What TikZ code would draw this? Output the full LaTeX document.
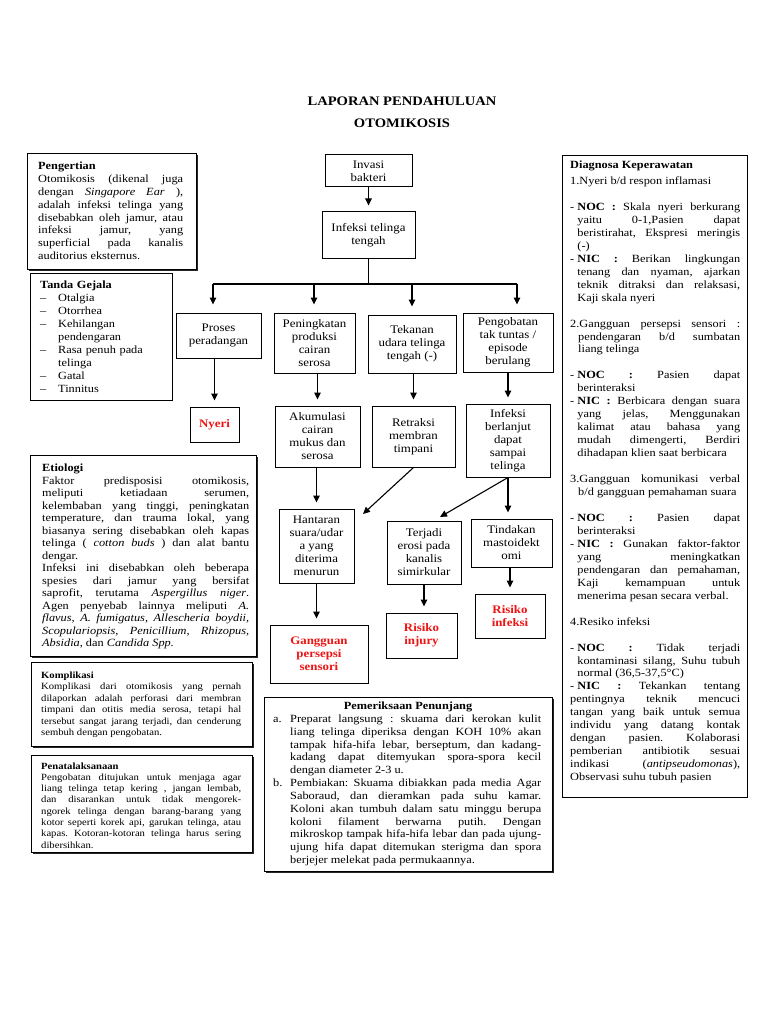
\documentclass[tikz,border=0pt]{standalone}
\usepackage{fontspec}
\setmainfont{Liberation Serif}[FakeStretch=1.12]
\usetikzlibrary{arrows.meta,shadows}
\definecolor{redt}{RGB}{238,20,20}
\newcommand{\hpar}[1][7.2pt]{\par\hangindent=#1\hangafter=1\relax}
\newcommand{\hfirst}[1][7.2pt]{\hangindent=#1\hangafter=1\relax}
\newcommand{\blankln}{\par\mbox{}}
\newcommand{\dsh}{\makebox[7.2pt][l]{-}}
\newcommand{\tgd}{\makebox[18pt][l]{--}}
\newcommand{\lbl}[1]{\noindent\llap{\makebox[17pt][l]{#1}}}
\frenchspacing
\begin{document}
\begin{tikzpicture}[x=1pt,y=-1pt,
  box/.style={draw, line width=1pt, fill=white, inner sep=0pt, anchor=north west},
  sbox/.style={box, drop shadow={shadow xshift=1.3pt, shadow yshift=-1.3pt, fill=black, opacity=0.85}},
  fnode/.style={draw, line width=1pt, fill=white, align=center, inner sep=0pt, font=\fontsize{11.5}{13}\selectfont},
  rnode/.style={fnode, text=redt, font=\bfseries\fontsize{11.5}{13}\selectfont},
  txt/.style={anchor=base west, inner sep=0pt, align=justify},
  arr/.style={line width=1.1pt, -{Triangle[length=7pt,width=6.5pt]}, shorten >=6pt},
  ln/.style={line width=1.1pt}
]
\path[use as bounding box, fill=white] (0,0) rectangle (768,1024);

% title
\node[anchor=base, inner sep=0pt, font=\bfseries\fontsize{13}{15}\selectfont] (title1) at (402,105.5) {LAPORAN PENDAHULUAN};
\node[anchor=base, inner sep=0pt, font=\bfseries\fontsize{13}{15}\selectfont] (title2) at (402,127.5) {OTOMIKOSIS};

% left column boxes
\node[sbox, minimum width=169, minimum height=116] (pengbox) at (27,153) {};
\node[txt, text width=145, font=\fontsize{11}{12.9}\selectfont] (pengtxt) at (38,169.5) {\textbf{Pengertian}\par
Otomikosis (dikenal juga\linebreak dengan \textit{Singapore}\quad\textit{Ear} ),\linebreak adalah infeksi telinga yang\linebreak disebabkan oleh jamur, atau\linebreak infeksi jamur, yang\linebreak superficial pada kanalis\linebreak auditorius eksternus.};

\node[box, minimum width=142, minimum height=127] (tandabox) at (30,273) {};
\node[anchor=base west, inner sep=0pt, text width=128, align=left, font=\fontsize{11}{13.1}\selectfont] (tandatxt) at (40,288) {\textbf{Tanda Gejala}\\
\tgd Otalgia\\ \tgd Otorrhea\\ \tgd Kehilangan\\ \hspace*{18pt}pendengaran\\ \tgd Rasa penuh pada\\ \hspace*{18pt}telinga\\ \tgd Gatal\\ \tgd Tinnitus};

\node[sbox, minimum width=226, minimum height=201] (etiobox) at (30,455) {};
\node[txt, text width=207, font=\fontsize{11}{12.5}\selectfont] (etiotxt) at (42,471.5) {\textbf{Etiologi}\par
Faktor predisposisi otomikosis,\linebreak meliputi ketiadaan serumen,\linebreak kelembaban yang tinggi, peningkatan\linebreak temperature, dan trauma lokal, yang\linebreak biasanya sering disebabkan oleh kapas\linebreak telinga ( \textit{cotton buds} ) dan alat bantu\linebreak dengar.\par
Infeksi ini disebabkan oleh beberapa\linebreak spesies dari jamur yang bersifat\linebreak saprofit, terutama \textit{Aspergillus niger}.\linebreak Agen penyebab lainnya meliputi \textit{A.}\linebreak \textit{flavus, A. fumigatus, Allescheria boydii,}\linebreak \textit{Scopulariopsis, Penicillium, Rhizopus,}\linebreak \textit{Absidia}, dan \textit{Candida Spp.}};

\node[sbox, minimum width=221, minimum height=84] (komplbox) at (31,662) {};
\node[txt, text width=200, font=\fontsize{9.5}{11.5}\selectfont] (kompltxt) at (41,678) {\textbf{Komplikasi}\par
Komplikasi dari otomikosis yang pernah\linebreak dilaporkan adalah perforasi dari membran\linebreak timpani dan otitis media serosa, tetapi hal\linebreak tersebut sangat jarang terjadi, dan cenderung\linebreak sembuh dengan pengobatan.};

\node[sbox, minimum width=221, minimum height=97] (penatbox) at (31,755) {};
\node[txt, text width=200, font=\fontsize{9.5}{11.3}\selectfont] (penattxt) at (41,769) {\textbf{Penatalaksanaan}\par
Pengobatan ditujukan untuk menjaga agar\linebreak liang telinga tetap kering , jangan lembab,\linebreak dan disarankan untuk tidak mengorek-\linebreak ngorek telinga dengan barang-barang yang\linebreak kotor seperti korek api, garukan telinga, atau\linebreak kapas. Kotoran-kotoran telinga harus sering\linebreak dibersihkan.};

% pemeriksaan penunjang
\node[sbox, minimum width=288, minimum height=174] (pemerbox) at (264,697) {};
\node[anchor=base, inner sep=0pt, font=\bfseries\fontsize{11}{12.85}\selectfont] (pemerhead) at (408,709.5) {Pemeriksaan Penunjang};
\node[txt, text width=251, font=\fontsize{11}{12.85}\selectfont] (pemertxt) at (290,722.3) {\lbl{a.}Preparat langsung : skuama dari kerokan kulit\linebreak liang telinga diperiksa dengan KOH 10\% akan\linebreak tampak hifa-hifa lebar, berseptum, dan kadang-\linebreak kadang dapat ditemyukan spora-spora kecil\linebreak dengan diameter 2-3 u.\par
\lbl{b.}Pembiakan: Skuama dibiakkan pada media Agar\linebreak Saboraud, dan dieramkan pada suhu kamar.\linebreak Koloni akan tumbuh dalam satu minggu berupa\linebreak koloni filament berwarna putih. Dengan\linebreak mikroskop tampak hifa-hifa lebar dan pada ujung-\linebreak ujung hifa dapat ditemukan sterigma dan spora\linebreak berjejer melekat pada permukaannya.};

% diagnosa keperawatan
\node[box, minimum width=185, minimum height=642] (diagbox) at (562,155) {};
\node[anchor=base west, inner sep=0pt, font=\bfseries\fontsize{11}{13}\selectfont] (diaghead) at (570,168.5) {Diagnosa Keperawatan};
\node[txt, text width=170, font=\fontsize{11}{12.96}\selectfont] (diagtxt) at (570,184.5) {\hfirst[8pt]1.Nyeri b/d respon inflamasi\blankln
\hpar\dsh\textbf{NOC :} Skala nyeri berkurang\linebreak yaitu 0-1,Pasien dapat\linebreak beristirahat, Ekspresi meringis\linebreak (-)
\hpar\dsh\textbf{NIC :} Berikan lingkungan\linebreak tenang dan nyaman, ajarkan\linebreak teknik ditraksi dan relaksasi,\linebreak Kaji skala nyeri\blankln
\hpar[8pt]2.Gangguan persepsi sensori :\linebreak pendengaran b/d sumbatan\linebreak liang telinga\blankln
\hpar\dsh\textbf{NOC :} Pasien dapat\linebreak berinteraksi
\hpar\dsh\textbf{NIC :} Berbicara dengan suara\linebreak yang jelas, Menggunakan\linebreak kalimat atau bahasa yang\linebreak mudah dimengerti, Berdiri\linebreak dihadapan klien saat berbicara\blankln
\hpar[8pt]3.Gangguan komunikasi verbal\linebreak b/d gangguan pemahaman suara\blankln
\hpar\dsh\textbf{NOC :} Pasien dapat\linebreak berinteraksi
\hpar\dsh\textbf{NIC :} Gunakan faktor-faktor\linebreak yang meningkatkan\linebreak pendengaran dan pemahaman,\linebreak Kaji kemampuan untuk\linebreak menerima pesan secara verbal.\blankln
\hpar[8pt]4.Resiko infeksi\blankln
\hpar\dsh\textbf{NOC :} Tidak terjadi\linebreak kontaminasi silang, Suhu tubuh\linebreak normal (36,5-37,5°C)
\hpar\dsh\textbf{NIC :} Tekankan tentang\linebreak pentingnya teknik mencuci\linebreak tangan yang baik untuk semua\linebreak individu yang datang kontak\linebreak dengan pasien. Kolaborasi\linebreak pemberian antibiotik sesuai\linebreak indikasi (\textit{antipseudomonas}),\linebreak Observasi suhu tubuh pasien};

% flow chart
\node[fnode, minimum width=87, minimum height=32] (invasi) at (368.5,171) {Invasi\\bakteri};
\node[fnode, minimum width=93, minimum height=46] (infeksi) at (368.5,235) {Infeksi telinga\\tengah};
\node[fnode, minimum width=85, minimum height=45] (proses) at (218.5,335.5) {Proses\\peradangan};
\node[fnode, minimum width=81, minimum height=60] (pening) at (314.5,343) {Peningkatan\\produksi\\cairan\\serosa};
\node[fnode, minimum width=88, minimum height=58] (tekanan) at (412,344) {Tekanan\\udara telinga\\tengah (-)};
\node[fnode, minimum width=90, minimum height=59] (pengob) at (508,342.5) {Pengobatan\\tak tuntas /\\episode\\berulang};
\node[rnode, minimum width=49, minimum height=35] (nyeri) at (214.5,424.5) {Nyeri};
\node[fnode, minimum width=85, minimum height=61] (akum) at (317.5,436.5) {Akumulasi\\cairan\\mukus dan\\serosa};
\node[fnode, minimum width=83, minimum height=61] (retraksi) at (413.5,436.5) {Retraksi\\membran\\timpani};
\node[fnode, minimum width=84, minimum height=73] (berlanjut) at (508,440.5) {Infeksi\\berlanjut\\dapat\\sampai\\telinga};
\node[fnode, minimum width=75, minimum height=74] (hantaran) at (316.5,546) {Hantaran\\suara/udar\\a yang\\diterima\\menurun};
\node[fnode, minimum width=74, minimum height=63] (erosi) at (424,552.5) {Terjadi\\erosi pada\\kanalis\\simirkular};
\node[fnode, minimum width=81, minimum height=48] (tindakan) at (511.5,543) {Tindakan\\mastoidekt\\omi};
\node[rnode, minimum width=98, minimum height=58] (gangguan) at (319,654) {Gangguan\\persepsi\\sensori};
\node[rnode, minimum width=71, minimum height=45] (injury) at (421.5,635.5) {Risiko\\injury};
\node[rnode, minimum width=70, minimum height=44] (rinfeksi) at (510,616) {Risiko\\infeksi};

\coordinate (hub) at (368.5,284);
\coordinate (t1) at (213,284);
\coordinate (t2) at (314,284);
\coordinate (t3) at (412,284);
\coordinate (t4) at (517,284);
\coordinate (hin) at (363,514);
\coordinate (ein) at (440,517);

\draw[arr] (invasi.south) -- (infeksi.north);
\draw[ln] (infeksi.south) -- (hub);
\draw[ln] (t1) -- (t4);
\draw[arr, shorten >=8pt] (t1) -- (t1 |- proses.north);
\draw[arr, shorten >=8pt] (t2) -- (t2 |- pening.north);
\draw[arr, shorten >=8pt] (t3) -- (t3 |- tekanan.north);
\draw[arr, shorten >=8pt] (t4) -- (t4 |- pengob.north);
\draw[arr] (nyeri.north |- proses.south) -- (nyeri.north);
\draw[arr] (akum.north |- pening.south) -- (akum.north);
\draw[arr] (retraksi.north |- tekanan.south) -- (retraksi.north);
\draw[arr] (pengob.south) -- (berlanjut.north);
\draw[arr] (hantaran.north |- akum.south) -- (hantaran.north);
\draw[arr, shorten >=0pt] (retraksi.south) -- (hin);
\draw[arr, shorten >=0pt] (berlanjut.south) -- (ein);
\draw[arr] (berlanjut.south) -- (berlanjut.south |- tindakan.north);
\draw[arr] (hantaran.south) -- (hantaran.south |- gangguan.north);
\draw[arr] (erosi.south) -- (erosi.south |- injury.north);
\draw[arr] (rinfeksi.north |- tindakan.south) -- (rinfeksi.north);
\end{tikzpicture}
\end{document}
